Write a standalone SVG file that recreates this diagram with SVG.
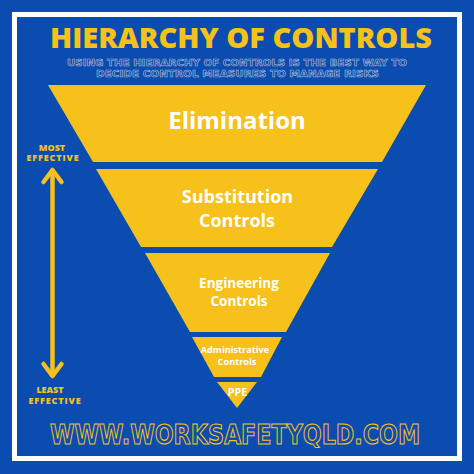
<svg xmlns="http://www.w3.org/2000/svg" width="474" height="474" viewBox="0 0 474 474">
<style>
.tier{fill:#f5c11a}
.lbl{font-family:"Open Sans","Liberation Sans",sans-serif;font-weight:700;fill:#ffffff;text-anchor:middle}
.side{font-family:"Open Sans","Liberation Sans",sans-serif;font-weight:800;fill:#f5c11a;text-anchor:middle;font-size:9px}
.wide{letter-spacing:0.9px}
.sub{font-family:"DejaVu Sans","Liberation Sans",sans-serif;font-weight:700;fill:#0b4cb0;stroke:#aab4cc;stroke-width:0.6;text-anchor:middle;font-size:9.5px}
.arrow{fill:none;stroke:#f5c11a;stroke-width:4.5;stroke-linecap:round;stroke-linejoin:round}
</style>
<rect x="0" y="0" width="474" height="474" fill="#0b4cb0"/>
<rect x="14.5" y="14.5" width="445" height="444" fill="none" stroke="#ffffff" stroke-width="5"/>
<text x="241" y="48" font-family="Open Sans, Liberation Sans, sans-serif" font-weight="800" font-size="28" fill="#f5c11a" text-anchor="middle" textLength="382" lengthAdjust="spacingAndGlyphs">HIERARCHY OF CONTROLS</text>
<text class="sub" x="237" y="65.5" textLength="340" lengthAdjust="spacingAndGlyphs">USING THE HIERARCHY OF CONTROLS IS THE BEST WAY TO</text>
<text class="sub" x="237.5" y="76.5" textLength="283" lengthAdjust="spacingAndGlyphs">DECIDE CONTROL MEASURES TO MANAGE RISKS</text>
<g id="elimination">
<polygon class="tier" points="48,85 426,85 382,162 93,162"/>
<text class="lbl" x="237" y="129" font-size="24">Elimination</text>
</g>
<g id="substitution">
<polygon class="tier" points="96,169 378,169 332,247 141,247"/>
<text class="lbl" x="237.5" y="203" font-size="18">Substitution</text>
<text class="lbl" x="237" y="227" font-size="18">Controls</text>
</g>
<g id="engineering">
<polygon class="tier" points="145,253 330,253 286,332 190,332"/>
<text class="lbl" x="239" y="288" font-size="13.5">Engineering</text>
<text class="lbl" x="239" y="306" font-size="13.5">Controls</text>
</g>
<g id="administrative">
<polygon class="tier" points="192,337 282,337 261,377 214,377"/>
<text class="lbl" x="235" y="353" font-size="9.2">Administrative</text>
<text class="lbl" x="237" y="365" font-size="9.2">Controls</text>
</g>
<g id="ppe">
<polygon class="tier" points="217,382 257,382 237,408"/>
<text class="lbl" x="237.5" y="396" font-size="10.7">PPE</text>
</g>
<g id="connectors">
<line class="arrow" x1="52.5" y1="171" x2="52.5" y2="375"/>
<polyline class="arrow" points="43.5,182 52.5,170 61.5,182"/>
<polyline class="arrow" points="43.5,364 52.5,376 61.5,364"/>
</g>
<g id="effectiveness">
<text class="side"><tspan x="52" y="150.5">MOST</tspan><tspan class="wide" x="53" y="161">EFFECTIVE</tspan></text>
<text class="side"><tspan x="50" y="393">LEAST</tspan><tspan class="wide" x="55" y="404">EFFECTIVE</tspan></text>
</g>
<text x="235" y="444" font-family="DejaVu Sans, Liberation Sans, sans-serif" font-weight="700" font-size="26" fill="#0b4cb0" stroke="#f5c11a" stroke-width="1.1" text-anchor="middle" textLength="370" lengthAdjust="spacingAndGlyphs">WWW.WORKSAFETYQLD.COM</text>
</svg>
